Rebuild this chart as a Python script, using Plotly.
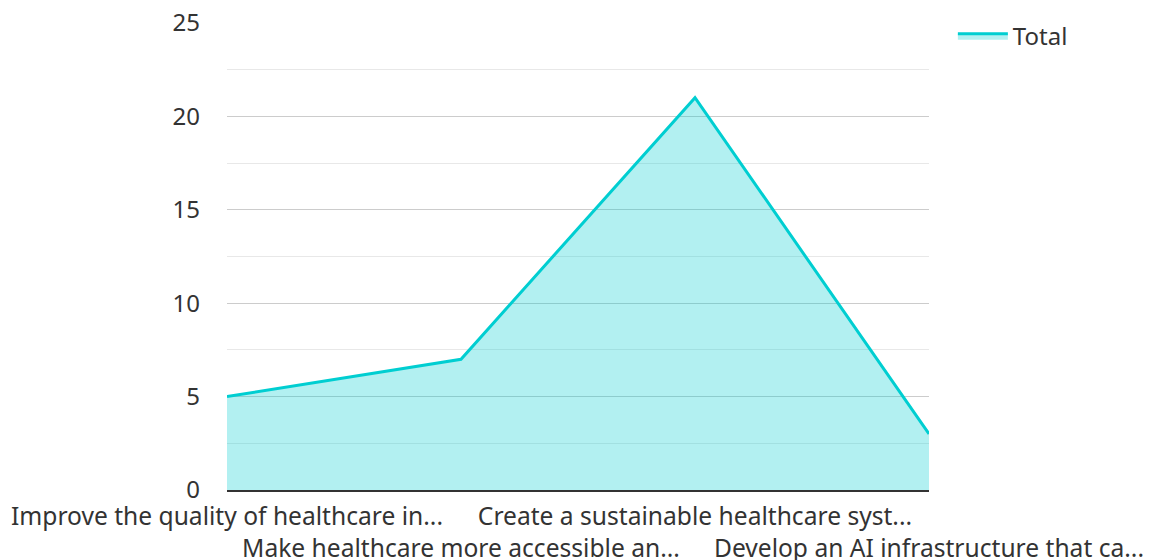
import plotly.graph_objects as go

categories = [
    "Improve the quality of healthcare in...",
    "Make healthcare more accessible an...",
    "Create a sustainable healthcare syst...",
    "Develop an AI infrastructure that ca...",
]
values = [5, 7, 21, 3]
series_name = "Total"
y_ticks = [0, 5, 10, 15, 20, 25]

# staggered labels: odd ones go to the second row
tick_text = [c if i % 2 == 0 else "<br>" + c for i, c in enumerate(categories)]

fig = go.Figure()
fig.add_trace(go.Scatter(
    x=categories, y=values, name=series_name, mode="lines",
    line=dict(color="#00CED1", width=3),
    fill="tozeroy", fillcolor="rgba(0,206,209,0.3)",
))

fig.update_layout(
    width=1150, height=560,
    margin=dict(l=227, r=221, t=23, b=70),
    paper_bgcolor="white", plot_bgcolor="white",
    font=dict(family="Noto Sans", size=24, color="#333333"),
    showlegend=True,
    legend=dict(x=1.034, y=1.02, xanchor="left", yanchor="top",
                itemwidth=50,
                font=dict(size=24, color="#333333"), bgcolor="rgba(0,0,0,0)"),
    xaxis=dict(
        type="category", range=[0, len(categories) - 1],
        tickvals=categories, ticktext=tick_text,
        tickfont=dict(size=24.6),
        ticklabelstandoff=3,
        showgrid=False, zeroline=False,
        showline=True, linecolor="#333333", linewidth=2,
        ticks="", tickangle=0, automargin=False,
    ),
    yaxis=dict(
        range=[0, 25], tickvals=y_ticks,
        showgrid=True, gridcolor="#cccccc", gridwidth=1,
        zeroline=False, showline=False, ticks="",
        ticklabelstandoff=26, automargin=False,
        minor=dict(dtick=2.5, showgrid=True, gridcolor="#e8e8e8", gridwidth=1),
    ),
)

fig.write_html("out.html")
